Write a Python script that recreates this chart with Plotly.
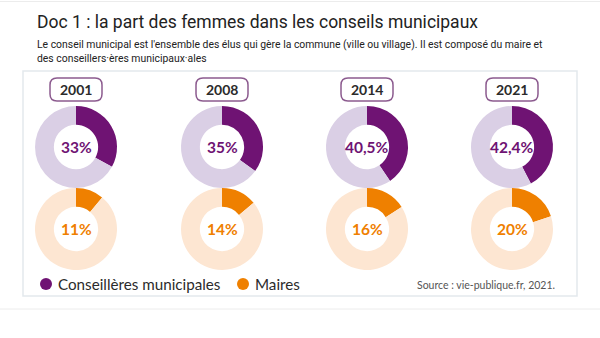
import plotly.graph_objects as go

years = ["2001", "2008", "2014", "2021"]
conseilleres = [33, 35, 40.5, 42.4]
maires = [11, 14, 16, 20]
conseilleres_labels = ["33%", "35%", "40,5%", "42,4%"]
maires_labels = ["11%", "14%", "16%", "20%"]

W, H = 600, 338
def px(x): return x / W
def py(y): return 1 - y / H

DARK_PURPLE = "#6f1373"
LIGHT_PURPLE = "#dacfe5"
ORANGE = "#ef8000"
LIGHT_ORANGE = "#fde6d2"
CHART_FONT = "Lato"

centers_x = [76, 222, 367, 512]
top_cy, bot_cy, R = 147, 229, 41

fig = go.Figure()
annotations = []
shapes = []

for i, yr in enumerate(years):
    cx = centers_x[i]
    for cy, val, lab, c1, c2 in [
        (top_cy, conseilleres[i], conseilleres_labels[i], DARK_PURPLE, LIGHT_PURPLE),
        (bot_cy, maires[i], maires_labels[i], ORANGE, LIGHT_ORANGE),
    ]:
        fig.add_trace(go.Pie(
            values=[val, 100 - val], labels=["a", "b"],
            marker=dict(colors=[c1, c2], line=dict(width=0)),
            hole=0.54, sort=False, direction="clockwise", rotation=0,
            textinfo="none", hoverinfo="skip", showlegend=False,
            domain=dict(x=[px(cx - R), px(cx + R)], y=[py(cy + R), py(cy - R)]),
        ))
        annotations.append(dict(
            x=px(cx), y=py(cy), xref="paper", yref="paper", text=f"<b>{lab}</b>",
            showarrow=False, font=dict(family=CHART_FONT, size=15.5, color=c1),
            xanchor="center", yanchor="middle"))
    # year label box (rounded)
    x0, x1, y0, y1, r = cx - 26, cx + 26, 78, 101, 7
    X0, X1 = px(x0), px(x1)
    Y0, Y1 = py(y0), py(y1)
    rx, ry = r / W, r / H
    path = (f"M {X0+rx},{Y0} L {X1-rx},{Y0} Q {X1},{Y0} {X1},{Y0-ry} "
            f"L {X1},{Y1+ry} Q {X1},{Y1} {X1-rx},{Y1} L {X0+rx},{Y1} "
            f"Q {X0},{Y1} {X0},{Y1+ry} L {X0},{Y0-ry} Q {X0},{Y0} {X0+rx},{Y0} Z")
    shapes.append(dict(type="path", path=path, xref="paper", yref="paper",
                       line=dict(color="#8c5b8f", width=1.5), fillcolor="white", layer="above"))
    annotations.append(dict(
        x=px(cx), y=py(89.5), xref="paper", yref="paper", text=f"<b>{yr}</b>",
        showarrow=False, font=dict(family=CHART_FONT, size=14, color="#2b2b2b"),
        xanchor="center", yanchor="middle"))

# image frame
shapes.insert(0, dict(type="rect", xref="paper", yref="paper", x0=px(23), x1=px(577),
                      y0=py(296), y1=py(71), line=dict(color="#e3e9ed", width=1.5),
                      fillcolor="white", layer="below"))
# faint page lines
shapes.append(dict(type="line", xref="paper", yref="paper", x0=0, x1=1, y0=py(1.5), y1=py(1.5),
                   line=dict(color="#ececec", width=1)))
shapes.append(dict(type="line", xref="paper", yref="paper", x0=0, x1=1, y0=py(309), y1=py(309),
                   line=dict(color="#ececec", width=1)))

# legend
legend_items = [("Conseillères municipales", DARK_PURPLE, 46), ("Maires", ORANGE, 243)]
for text, col, lx in legend_items:
    shapes.append(dict(type="circle", xref="paper", yref="paper",
                       x0=px(lx - 6), x1=px(lx + 6), y0=py(284 + 6), y1=py(284 - 6),
                       fillcolor=col, line=dict(width=0)))
    annotations.append(dict(x=px(lx + 10), y=py(284), xref="paper", yref="paper", text=text,
                            showarrow=False, font=dict(family=CHART_FONT, size=15.2, color="#2b2b2b"),
                            xanchor="left", yanchor="middle"))
annotations.append(dict(x=px(557), y=py(285), xref="paper", yref="paper",
                        text="Source : vie-publique.fr, 2021.", showarrow=False,
                        font=dict(family=CHART_FONT, size=10.5, color="#555555"),
                        xanchor="right", yanchor="middle"))

# title & subtitle
annotations.append(dict(x=px(35), y=py(22), xref="paper", yref="paper",
                        text="Doc 1 : la part des femmes dans les conseils municipaux",
                        showarrow=False, font=dict(family="Roboto", size=17.5, color="#222222"),
                        xanchor="left", yanchor="middle"))
annotations.append(dict(x=px(35), y=py(51.5), xref="paper", yref="paper",
                        text=("Le conseil municipal est l'ensemble des élus qui gère la commune (ville ou village). Il est composé du maire et"
                              "<br>des conseillers·ères municipaux·ales"),
                        showarrow=False, align="left",
                        font=dict(family="Roboto", size=10.4, color="#222222"),
                        xanchor="left", yanchor="middle"))

fig.update_layout(width=W, height=H, margin=dict(l=0, r=0, t=0, b=0),
                  paper_bgcolor="white", plot_bgcolor="white",
                  shapes=shapes, annotations=annotations, showlegend=False)
fig.write_html("out.html")
